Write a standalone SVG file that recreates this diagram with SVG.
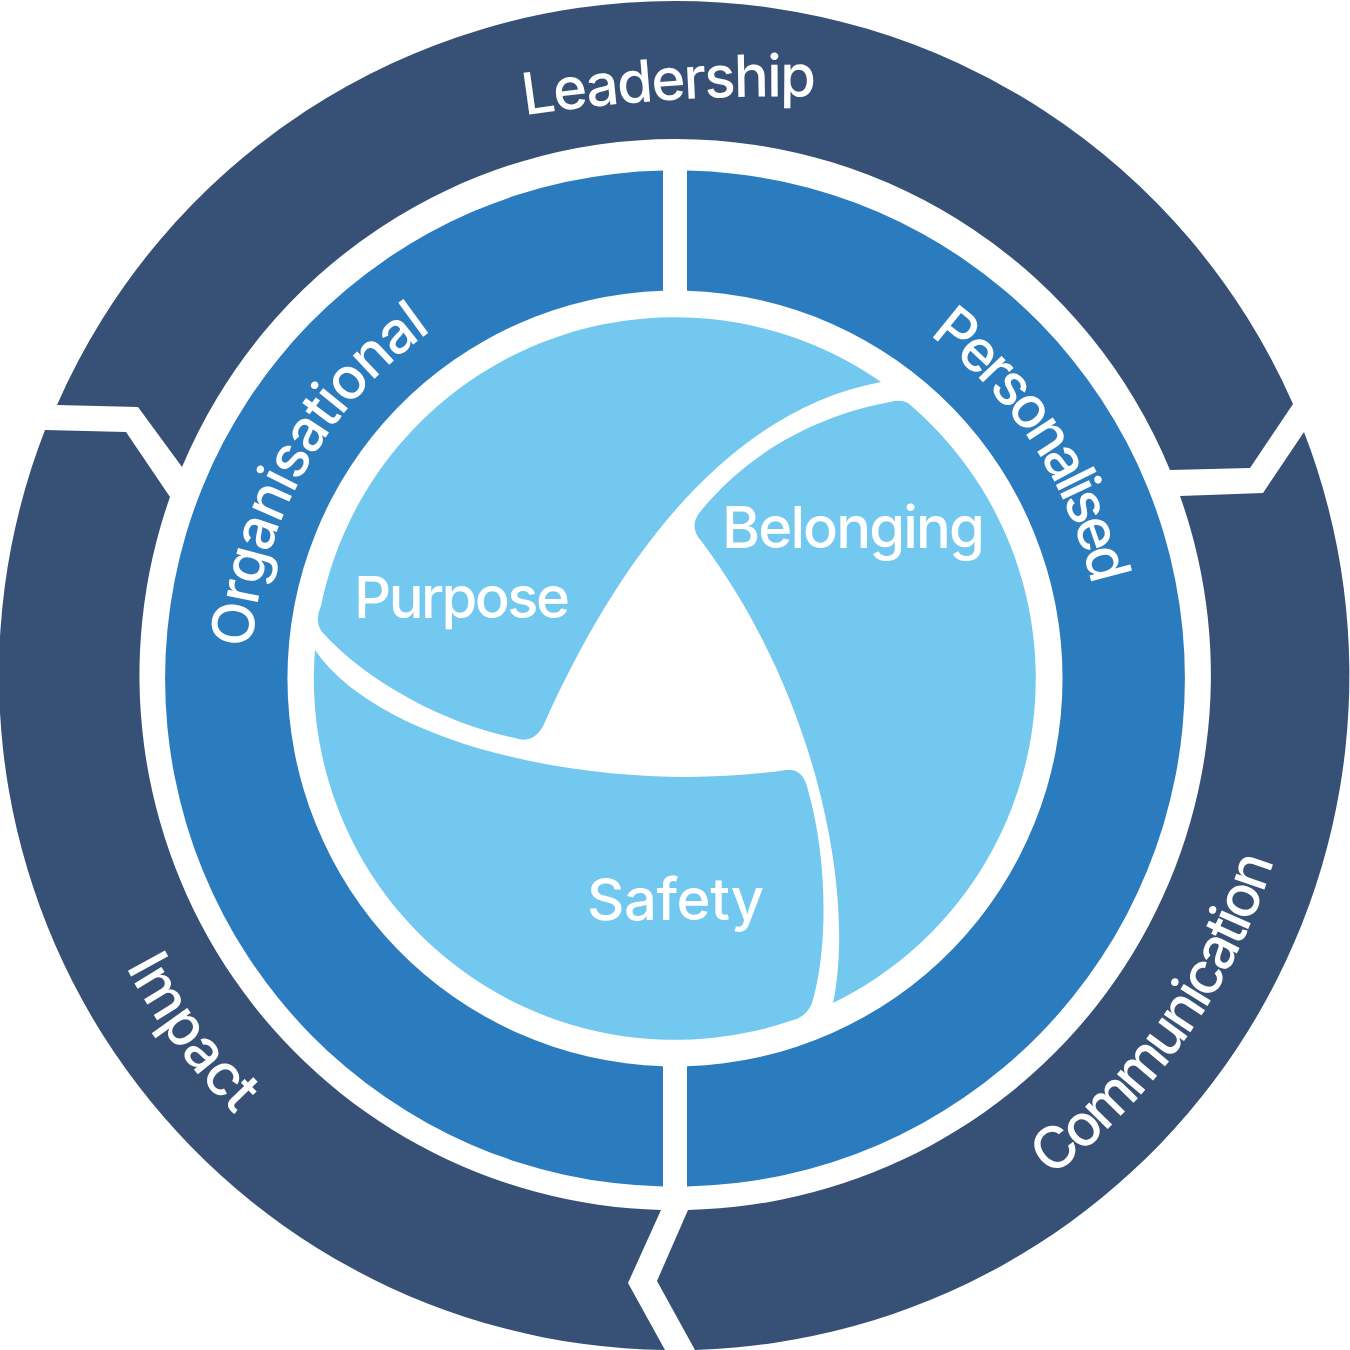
<svg xmlns="http://www.w3.org/2000/svg" width="1350" height="1350" viewBox="0 0 1350 1350">
<style>
.outer{fill:#365175}
.mid{fill:#2B7BBF}
.inner{fill:#72C8EE}
.lbl{fill:#fff;font-family:Inter,"Noto Sans","Liberation Sans",sans-serif;font-weight:500;font-size:58px}
</style>
<defs>
<path id="p-lead" d="M 520 116 Q 672 93 830 97"/>
<path id="p-comm" d="M 835.1 1281.1 A 627 627 0 0 0 1299.8 622.5"/>
<path id="p-imp" d="M 65.5 799 A 622 622 0 0 0 378.2 1221.6"/>
<path id="p-org" d="M 258.1 755.3 A 424 424 0 0 1 526.5 280.8"/>
<path id="p-pers" d="M 799.8 269.7 A 427 427 0 0 1 1098.8 730.1"/>
</defs>
<rect width="1350" height="1350" fill="#fff"/>
<g id="leadership">
<path class="outer" d="M 57 405 A 675 675 0 0 1 1293 404 L 1250 468 L 1170 470 A 535 535 0 0 0 182 467 L 138 407 Z"/>
<text class="lbl"><textPath href="#p-lead" startOffset="48.5%" text-anchor="middle" textLength="292">Leadership</textPath></text>
</g>
<g id="communication">
<path class="outer" d="M 1304 432 A 675 675 0 0 1 695 1350 L 657 1281 L 688 1210 A 535 535 0 0 0 1180 496 L 1263 493 Z"/>
<text class="lbl"><textPath href="#p-comm" startOffset="50%" text-anchor="middle" textLength="394">Communication</textPath></text>
</g>
<g id="impact">
<path class="outer" d="M 665 1350 A 675 675 0 0 1 45 430 L 126 432 L 170 497 A 535 535 0 0 0 661 1210 L 628 1283 Z"/>
<text class="lbl"><textPath href="#p-imp" startOffset="50%" text-anchor="middle" textLength="185">Impact</textPath></text>
</g>
<g id="organisational">
<path class="mid" d="M 663 170.6 A 508 508 0 0 0 663 1186.4 L 663 1066.3 A 388 388 0 0 1 663 290.7 Z"/>
<text class="lbl"><textPath href="#p-org" startOffset="50%" text-anchor="middle" textLength="377">Organisational</textPath></text>
</g>
<g id="personalised">
<path class="mid" d="M 687 170.6 A 508 508 0 0 1 687 1186.4 L 687 1066.3 A 388 388 0 0 0 687 290.7 Z"/>
<text class="lbl"><textPath href="#p-pers" startOffset="50%" text-anchor="middle" textLength="305">Personalised</textPath></text>
</g>
<g id="purpose">
<path class="inner" d="M 881 382 C 730 410 620 555 545 722 Q 535 745 515 738 C 450 725 370 685 322 632 Q 314 620 321 606 A 361 361 0 0 1 881 382 Z"/>
<text class="lbl" x="354" y="618" textLength="216">Purpose</text>
</g>
<g id="belonging">
<path class="inner" d="M 908 403 A 361 361 0 0 1 833 1003 C 855 900 820 700 702 542 Q 688 527 700 512 C 750 450 820 415 890 402 Q 900 399 908 403 Z"/>
<text class="lbl" x="722" y="548" textLength="263">Belonging</text>
</g>
<g id="safety">
<path class="inner" d="M 315 650 C 385 752 620 795 786 770 Q 803 768 808 790 C 828 860 828 950 812 1003 Q 806 1018 790 1021 A 361 361 0 0 1 315 650 Z"/>
<text class="lbl" x="587" y="920" textLength="177">Safety</text>
</g>
<g id="connectors"/>
</svg>
